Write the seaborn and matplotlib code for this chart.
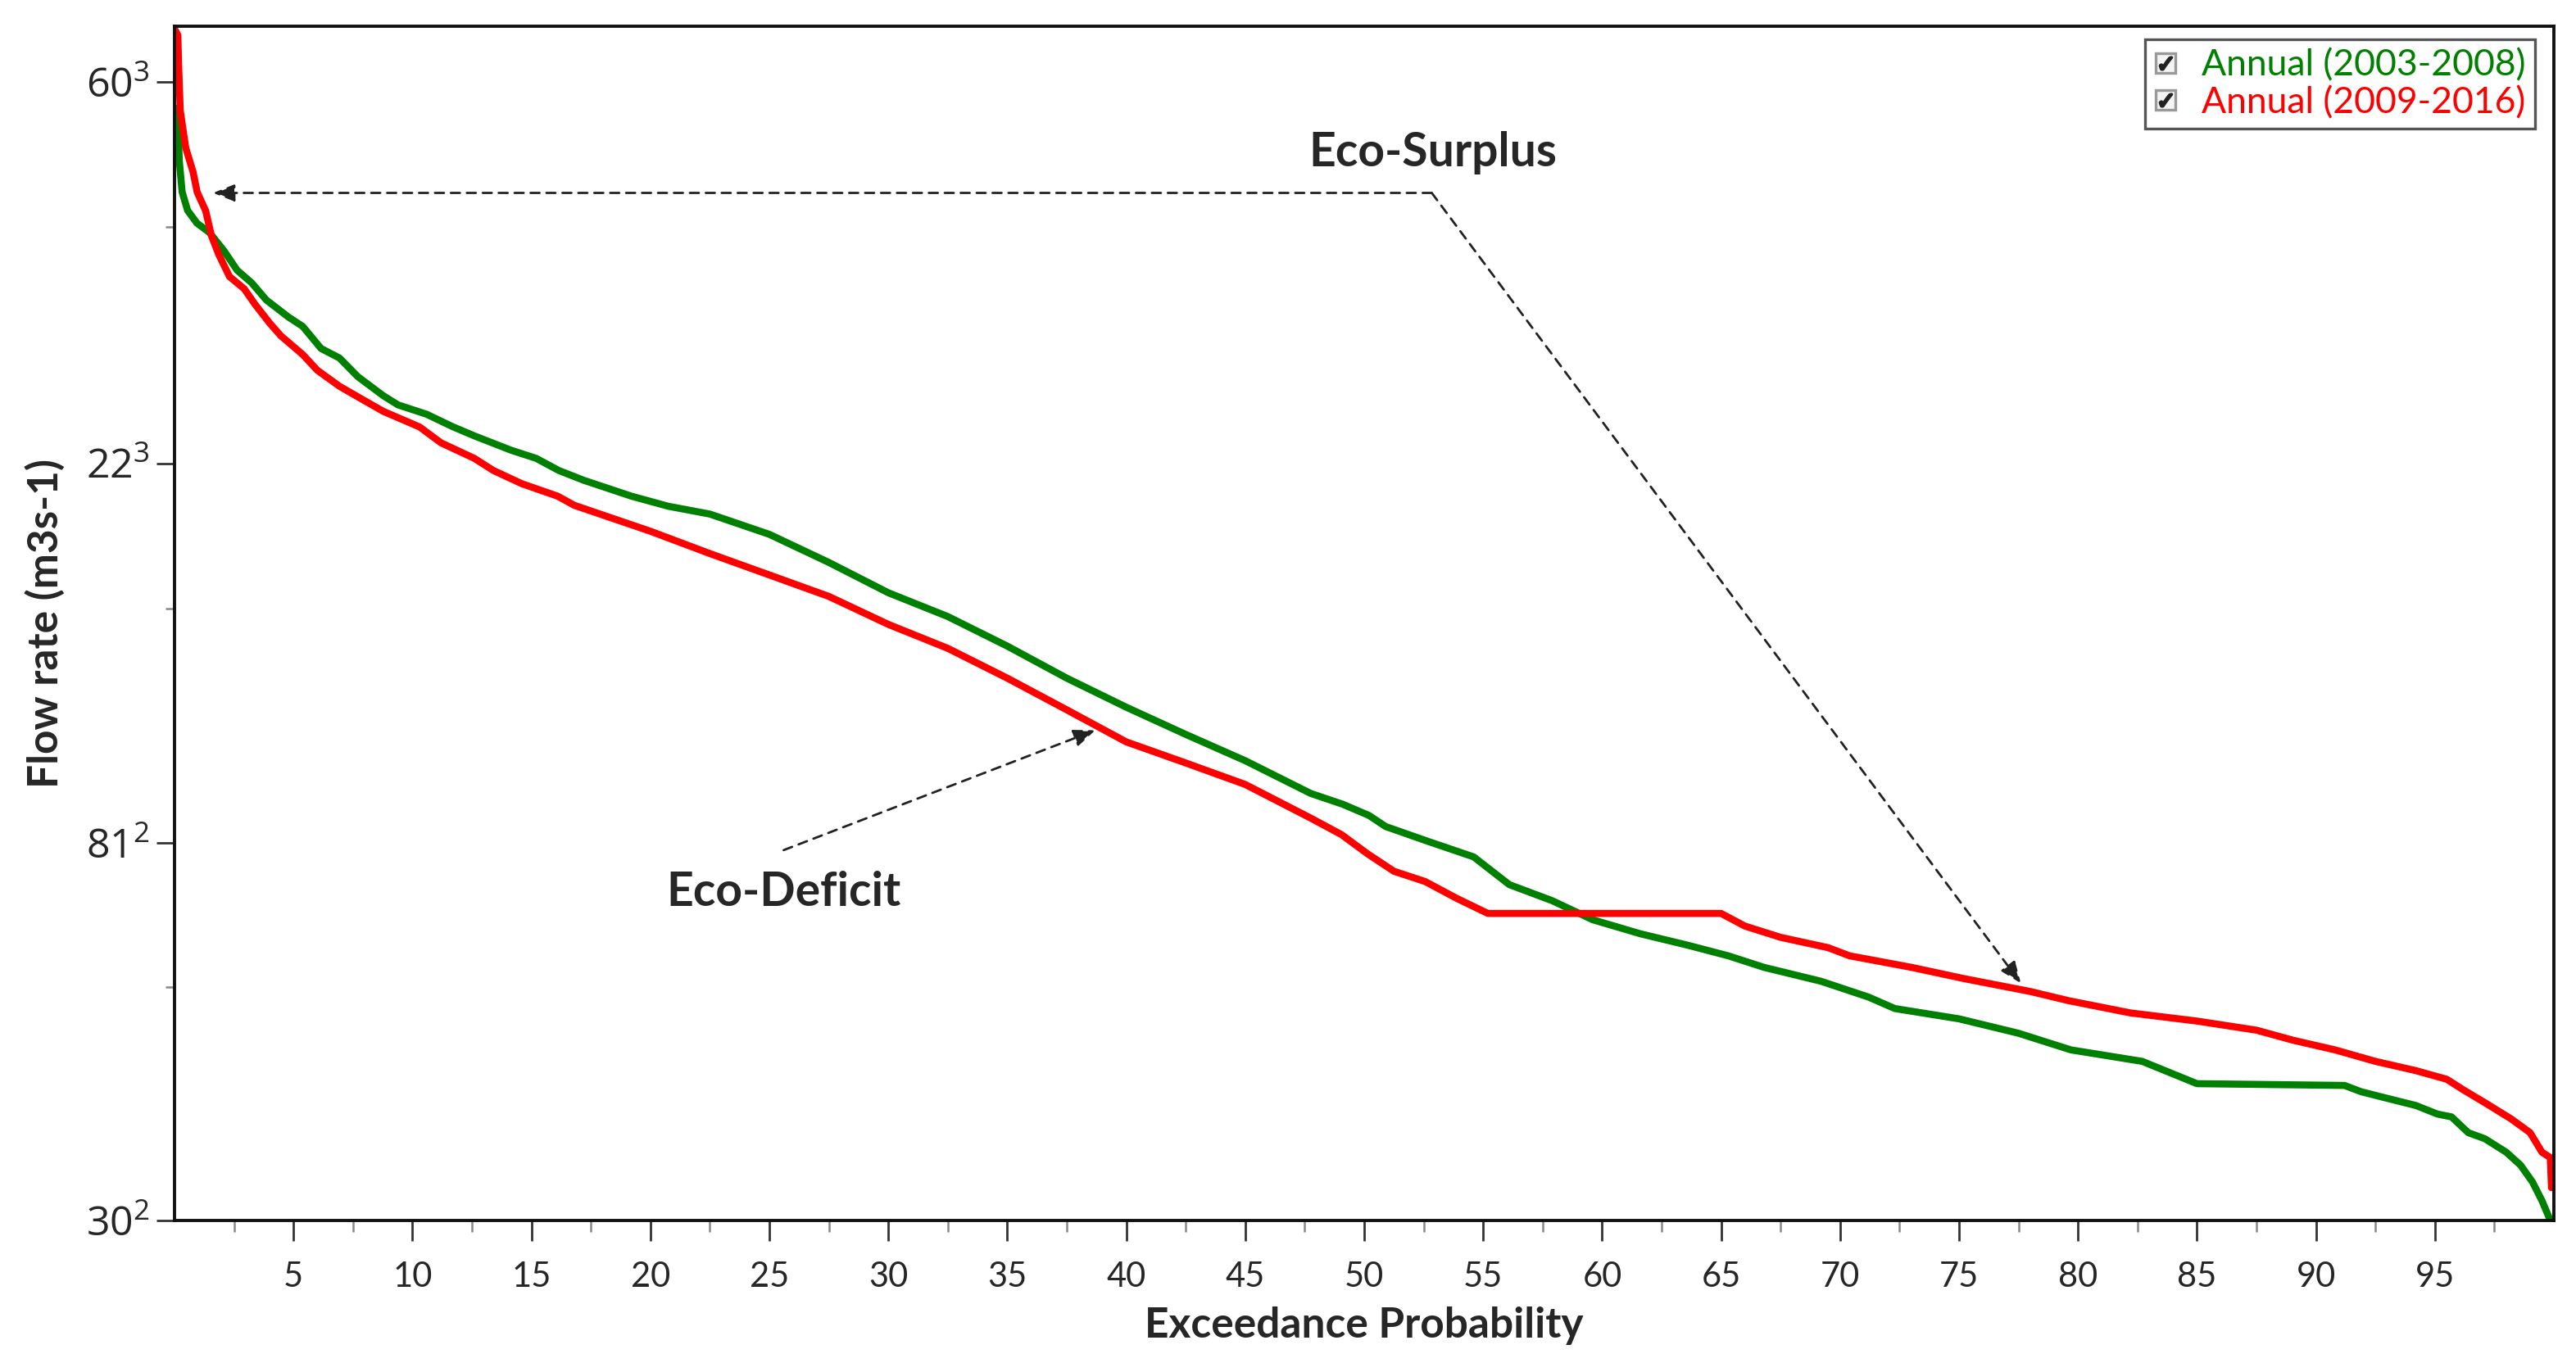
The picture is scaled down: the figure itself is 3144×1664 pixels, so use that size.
import numpy as np
import pandas as pd
import seaborn as sns
import matplotlib.pyplot as plt
from matplotlib.lines import Line2D
from matplotlib.legend_handler import HandlerTuple

# Flow duration curves
exceed_0308 = [0.05, 0.14, 0.2, 0.32, 0.55, 0.94, 1.47, 2.09, 2.63, 3.24, 3.86, 4.78, 5.39, 6.16,
               6.93, 7.7, 8.77, 9.39, 10.6, 11.7, 12.6, 14.15, 15.2, 16.15, 17.2, 19.2, 20.75,
               22.5, 25.0, 27.5, 30.0, 32.5, 35.0, 37.5, 40.0, 42.5, 45.0, 47.75,
               49.1, 50.2, 50.9, 52.6, 54.6, 56.1, 57.9, 59.6, 61.6, 63.6, 65.3, 66.8,
               69.2, 71.2, 72.3, 75.0, 77.5, 79.7, 82.7, 85.0, 91.2, 91.9, 92.8, 94.2,
               95.1, 95.7, 96.4, 97.1, 98.0, 98.6, 99.1, 99.5, 99.85]
flow_0308 = [5600, 5430, 4880, 4493, 4280, 4140, 4038, 3845, 3657, 3538, 3381, 3234, 3154, 2976,
             2903, 2764, 2629, 2566, 2503, 2422, 2365, 2277, 2229, 2159, 2104, 2018, 1965,
             1925, 1825, 1695, 1565, 1470, 1360, 1250, 1158, 1078, 1006, 923,
             897, 871, 846, 815, 781, 726, 696, 662, 638, 619, 602, 584,
             563, 540, 524, 510, 491, 470, 456, 430, 428, 421, 415, 406,
             397, 394, 378, 372, 359, 347, 332, 316, 300]

exceed_0916 = [0.0, 0.14, 0.17, 0.24, 0.47, 0.78, 0.95, 1.31, 1.55, 1.86, 2.31, 2.93, 3.39,
               4.01, 4.47, 5.39, 6.0, 6.92, 7.85, 8.78, 10.3, 11.2, 12.6, 13.4, 14.6, 16.1,
               16.8, 20.0, 22.5, 25.0, 27.5, 30.0, 32.5, 35.0, 37.5, 40.0, 42.5, 45.0,
               47.75, 49.05, 50.15, 51.25, 52.56, 53.9, 55.2, 65.0, 66.0, 67.5, 69.5, 70.4,
               73.0, 75.2, 78.0, 79.6, 82.2, 85.0, 87.5, 89.05, 90.8, 92.5, 94.2, 95.5,
               96.2, 97.1, 98.2, 99.0, 99.5, 99.85, 99.9]
flow_0916 = [6900, 6788, 6306, 5569, 5048, 4736, 4493, 4275, 4005, 3811, 3596, 3482, 3341,
             3179, 3077, 2929, 2811, 2696, 2607, 2522, 2421, 2322, 2229, 2159, 2085, 2018,
             1970, 1840, 1735, 1640, 1550, 1440, 1352, 1250, 1150, 1057, 1000, 945,
             865, 828, 787, 752, 732, 700, 673, 673, 651, 632, 615, 602,
             584, 567, 548, 535, 518, 507, 495, 482, 470, 456, 445, 435,
             423, 409, 392, 378, 359, 354, 327]

labels = ['Annual (2003-2008)', 'Annual (2009-2016)']
colors = ['#008000', '#ff0000']

y_ticks = [300, 810, 2200, 6000]
y_ticklabels = [r'$\mathregular{30^{2}}$', r'$\mathregular{81^{2}}$',
                r'$\mathregular{22^{3}}$', r'$\mathregular{60^{3}}$']
y_minor = [555, 1500, 4100]
x_ticks = list(range(5, 100, 5))
x_minor = [2.5 + 5 * i for i in range(20)]

df = pd.concat([
    pd.DataFrame({'exceedance': exceed_0308, 'flow': flow_0308, 'period': labels[0]}),
    pd.DataFrame({'exceedance': exceed_0916, 'flow': flow_0916, 'period': labels[1]}),
])

sns.set_style('ticks')
plt.rcParams['font.family'] = ['Lato', 'DejaVu Sans']

fig = plt.figure(figsize=(15.72, 8.32), dpi=200)
ax = fig.add_axes([213 / 3144, 1 - 1490 / 1664, 2904 / 3144, 1458 / 1664])

sns.lineplot(data=df, x='exceedance', y='flow', hue='period', palette=dict(zip(labels, colors)),
             estimator=None, sort=False, lw=3.1, legend=False, ax=ax)

ax.set_yscale('log')
ax.set_xlim(0, 100)
ax.set_ylim(300, 6950)

ax.set_xticks(x_ticks)
ax.set_xticklabels([str(t) for t in x_ticks])
ax.set_xticks(x_minor, minor=True)
ax.set_yticks(y_ticks)
ax.set_yticklabels(y_ticklabels)
ax.set_yticks(y_minor, minor=True)
ax.yaxis.set_minor_formatter(plt.NullFormatter())

ax.tick_params(axis='x', which='major', length=9, width=1.0, pad=9, labelsize=15, color='#333')
ax.tick_params(axis='x', which='minor', length=5, width=0.9, color='#888')
ax.tick_params(axis='y', which='major', length=8, width=1.0, pad=3, labelsize=18, color='#333')
ax.tick_params(axis='y', which='minor', length=4, width=0.9, color='#888')
for lab in ax.get_yticklabels():
    lab.set_fontfamily('Open Sans')
for sp in ax.spines.values():
    sp.set_linewidth(1.4)
    sp.set_color('#111')

ax.set_xlabel('Exceedance Probability', fontsize=18.5, fontweight='bold', labelpad=6)
ax.set_ylabel('Flow rate (m3s-1)', fontsize=18.5, fontweight='bold', labelpad=9)

# annotations
surplus_text = (52.9, 4980)
surplus_joint = (52.84, 4482)
surplus_tips = [(1.62, 4482), (77.6, 560)]
deficit_text = (25.6, 712)
deficit_start = (25.6, 795)
deficit_tip = (38.7, 1090)

arrow = dict(arrowstyle='-|>,head_length=0.8,head_width=0.32', color='#222', lw=1.0,
             ls=(0, (4, 3)), shrinkA=0, shrinkB=0)
ax.text(*surplus_text, 'Eco-Surplus', fontsize=20.5, fontweight='bold', ha='center', va='center')
for tip in surplus_tips:
    ax.annotate('', xy=tip, xytext=surplus_joint, arrowprops=arrow)
ax.text(*deficit_text, 'Eco-Deficit', fontsize=20.5, fontweight='bold', ha='center', va='center')
ax.annotate('', xy=deficit_tip, xytext=deficit_start, arrowprops=arrow)

# legend with check boxes
handles = []
for c in colors:
    box = Line2D([], [], marker='s', ms=8.5, mfc='#f4f4f4', mec='#999', mew=1.2, ls='none')
    tick = Line2D([], [], marker=r'$\checkmark$', ms=5.5, color='#222', ls='none')
    handles.append((box, tick))
leg = ax.legend(handles, labels, handler_map={tuple: HandlerTuple(ndivide=1)},
                loc='upper right', bbox_to_anchor=(0.992, 0.989), borderaxespad=0,
                frameon=True, fancybox=False, edgecolor='#555', framealpha=1,
                handlelength=0.6, handletextpad=0.7, borderpad=0.25,
                labelspacing=0.1, fontsize=16, labelcolor=colors)
leg.get_frame().set_linewidth(1.2)

fig.savefig('out.png', dpi=200)
